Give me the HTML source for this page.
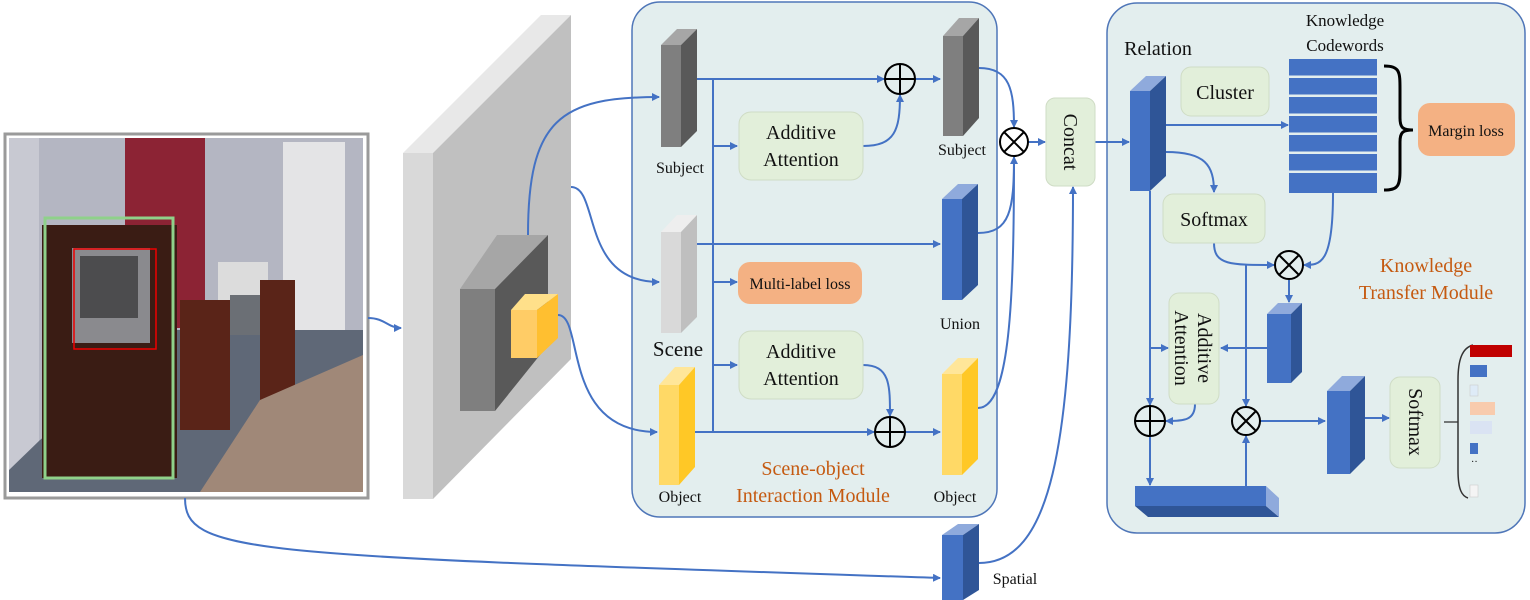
<!DOCTYPE html>
<html><head><meta charset="utf-8"><style>
body{margin:0;background:#fff}
svg{display:block}
text{font-family:"Liberation Serif",serif;fill:#111}
</style></head><body>
<svg width="1530" height="600" viewBox="0 0 1530 600" xmlns="http://www.w3.org/2000/svg">
<defs>
<marker id="a" markerWidth="8" markerHeight="8" refX="7" refY="4" orient="auto" markerUnits="userSpaceOnUse"><path d="M0,0 L8,4 L0,8 Z" fill="#4472C4"/></marker>
</defs>
<!-- photo -->
<rect x="5" y="134" width="363" height="364" fill="#fff" stroke="#9a9a9a" stroke-width="3"/>
<rect x="9" y="138" width="354" height="354" fill="#b4b6c2"/>
<rect x="9" y="138" width="30" height="354" fill="#c8c9d2"/>
<rect x="125" y="138" width="80" height="190" fill="#8c2334"/>
<rect x="283" y="142" width="62" height="235" fill="#e4e4e6"/>
<rect x="218" y="262" width="50" height="80" fill="#dcdcdc"/>
<polygon points="9,492 9,470 40,440 177,330 363,330 363,492" fill="#5f6877"/>
<rect x="42" y="225" width="135" height="253" fill="#3a1c14"/>
<rect x="72" y="248" width="78" height="95" fill="#8a8a8e"/>
<rect x="80" y="256" width="58" height="62" fill="#4c4c4e"/>
<rect x="180" y="300" width="50" height="130" fill="#5a2418"/>
<rect x="230" y="295" width="60" height="40" fill="#6b6f75"/>
<rect x="260" y="280" width="35" height="130" fill="#5a2418"/>
<polygon points="200,492 260,400 363,355 363,492" fill="#a08878"/>
<rect x="45" y="218" width="128" height="260" fill="none" stroke="#8fd18a" stroke-width="3"/>
<rect x="74" y="249" width="82" height="100" fill="none" stroke="#e00" stroke-width="1.5"/>
<!-- slab -->
<polygon points="403,153 433,153 433,499 403,499" fill="#d9d9d9"/>
<polygon points="403,153 541,15 571,15 433,153" fill="#e8e8e8"/>
<polygon points="433,153 571,15 571,359 433,499" fill="#c0c0c0"/>
<polygon points="460,289 497,235 548,235 495,289" fill="#a6a6a6"/>
<rect x="460" y="289" width="35" height="122" fill="#7f7f7f"/>
<polygon points="495,289 548,235 548,345 495,411" fill="#595959"/>
<polygon points="511,310 525,294 558,294 537,310" fill="#ffe08a"/>
<rect x="511" y="310" width="26" height="48" fill="#ffcc66"/>
<polygon points="537,310 558,294 558,338 537,358" fill="#ffbf30"/>
<!-- module 1 -->
<rect x="632" y="2" width="365" height="515" rx="28" fill="#e3eeee" stroke="#4f76b8" stroke-width="1.5"/>
<!-- module 2 -->
<rect x="1107" y="3" width="418" height="530" rx="30" fill="#e3eeee" stroke="#4f76b8" stroke-width="1.5"/>
<g stroke="#4472C4" stroke-width="2" fill="none">
<path d="M368,318 C385,318 388,328 401,328" marker-end="url(#a)"/>
<path d="M185,498 C185,555 250,555 940,578" marker-end="url(#a)"/>
<path d="M528,235 C528,120 560,97 659,97" marker-end="url(#a)"/>
<path d="M571,187 C600,187 580,282 659,282" marker-end="url(#a)"/>
<path d="M558,315 C585,315 560,432 657,432" marker-end="url(#a)"/>
<path d="M697,79 H884" marker-end="url(#a)"/>
<path d="M713,79 V432"/>
<path d="M713,146 H737" marker-end="url(#a)"/>
<path d="M713,282 H737" marker-end="url(#a)"/>
<path d="M713,365 H737" marker-end="url(#a)"/>
<path d="M697,244 H940" marker-end="url(#a)"/>
<path d="M679,432 H874" marker-end="url(#a)"/>
<path d="M905,432 H940" marker-end="url(#a)"/>
<path d="M915,79 H940" marker-end="url(#a)"/>
<path d="M863,146 C895,146 900,130 900,95" marker-end="url(#a)"/>
<path d="M863,365 C890,365 890,385 890,416" marker-end="url(#a)"/>
<path d="M979,68 C1010,68 1014,90 1014,127" marker-end="url(#a)"/>
<path d="M978,233 C1010,233 1014,210 1014,157" marker-end="url(#a)"/>
<path d="M978,408 C1010,408 1014,300 1014,157"/>
<path d="M1028,142 H1045" marker-end="url(#a)"/>
<path d="M979,563 C1050,563 1073,450 1073,187" marker-end="url(#a)"/>
<path d="M1095,142 H1129" marker-end="url(#a)"/>
<path d="M1166,125 H1288" marker-end="url(#a)"/>
<path d="M1166,152 C1205,152 1214,165 1214,192" marker-end="url(#a)"/>
<path d="M1214,243 C1214,265 1230,265 1274,265" marker-end="url(#a)"/>
<path d="M1333,193 C1333,265 1320,265 1304,265" marker-end="url(#a)"/>
<path d="M1246,265 V406" marker-end="url(#a)"/>
<path d="M1289,280 V302" marker-end="url(#a)"/>
<path d="M1267,348 H1221" marker-end="url(#a)"/>
<path d="M1150,191 V405" marker-end="url(#a)"/>
<path d="M1150,348 H1168" marker-end="url(#a)"/>
<path d="M1195,404 C1195,420 1185,421 1166,421" marker-end="url(#a)"/>
<path d="M1150,436 V485" marker-end="url(#a)"/>
<path d="M1246,486 V436" marker-end="url(#a)"/>
<path d="M1260,421 H1325" marker-end="url(#a)"/>
<path d="M1365,418 H1389" marker-end="url(#a)"/>
</g>
<!-- blocks -->
<g>
<polygon points="661,45 677,29 697,29 681,45" fill="#a6a6a6"/><rect x="661" y="45" width="20" height="102" fill="#7f7f7f"/><polygon points="681,45 697,29 697,131 681,147" fill="#595959"/>
<polygon points="661,232 677,215 697,215 681,232" fill="#eeeeee"/><rect x="661" y="232" width="20" height="101" fill="#d9d9d9"/><polygon points="681,232 697,215 697,317 681,333" fill="#bfbfbf"/>
<polygon points="659,385 675,367 695,367 679,385" fill="#ffe699"/><rect x="659" y="385" width="20" height="100" fill="#ffd966"/><polygon points="679,385 695,367 695,467 679,485" fill="#ffc826"/>
<polygon points="943,36 959,18 979,18 963,36" fill="#a6a6a6"/><rect x="943" y="36" width="20" height="100" fill="#7f7f7f"/><polygon points="963,36 979,18 979,118 963,136" fill="#595959"/>
<polygon points="942,199 958,184 978,184 962,199" fill="#8faadc"/><rect x="942" y="199" width="20" height="101" fill="#4472c4"/><polygon points="962,199 978,184 978,285 962,300" fill="#2f5597"/>
<polygon points="942,374 958,358 978,358 962,374" fill="#ffe699"/><rect x="942" y="374" width="20" height="101" fill="#ffd966"/><polygon points="962,374 978,358 978,459 962,475" fill="#ffc826"/>
<polygon points="942,535 958,524 979,524 963,535" fill="#8faadc"/><rect x="942" y="535" width="21" height="65" fill="#4472c4"/><polygon points="963,535 979,524 979,590 963,600" fill="#2f5597"/>
<polygon points="1130,91 1146,76 1166,76 1150,91" fill="#8faadc"/><rect x="1130" y="91" width="20" height="100" fill="#4472c4"/><polygon points="1150,91 1166,76 1166,176 1150,191" fill="#2f5597"/>
<polygon points="1267,314 1278,303 1302,303 1291,314" fill="#8faadc"/><rect x="1267" y="314" width="24" height="69" fill="#4472c4"/><polygon points="1291,314 1302,303 1302,372 1291,383" fill="#2f5597"/>
<polygon points="1327,391 1342,376 1365,376 1350,391" fill="#8faadc"/><rect x="1327" y="391" width="23" height="83" fill="#4472c4"/><polygon points="1350,391 1365,376 1365,459 1350,474" fill="#2f5597"/>
<rect x="1135" y="486" width="131" height="20" fill="#4472c4"/><polygon points="1135,506 1266,506 1279,517 1148,517" fill="#2f5597"/><polygon points="1266,486 1279,498 1279,517 1266,506" fill="#8faadc"/>
</g>
<!-- codewords -->
<g fill="#4472c4">
<rect x="1289" y="59" width="88" height="16.5"/><rect x="1289" y="78" width="88" height="16.5"/><rect x="1289" y="97" width="88" height="16.5"/><rect x="1289" y="116" width="88" height="16.5"/><rect x="1289" y="135" width="88" height="16.5"/><rect x="1289" y="154" width="88" height="16.5"/><rect x="1289" y="173" width="88" height="20"/>
</g>
<path d="M1384,66 C1400,66 1400,72 1400,90 V118 C1400,128 1403,130 1413,130 C1403,130 1400,132 1400,142 V170 C1400,186 1398,190 1384,190" fill="none" stroke="#000" stroke-width="3"/>
<!-- boxes -->
<g stroke="#cfdcc5" stroke-width="1" fill="#e2efda">
<rect x="739" y="112" width="124" height="68" rx="12"/>
<rect x="739" y="331" width="124" height="68" rx="12"/>
<rect x="1046" y="98" width="49" height="88" rx="9"/>
<rect x="1181" y="67" width="88" height="49" rx="10"/>
<rect x="1163" y="194" width="102" height="49" rx="10"/>
<rect x="1169" y="293" width="50" height="111" rx="10"/>
<rect x="1390" y="377" width="50" height="91" rx="10"/>
</g>
<rect x="738" y="262" width="124" height="42" rx="12" fill="#f4b183"/>
<rect x="1418" y="103" width="97" height="53" rx="12" fill="#f4b183"/>
<!-- circles -->
<g fill="none" stroke="#000" stroke-width="2">
<circle cx="900" cy="79" r="15"/><path d="M885,79 H915 M900,64 V94"/>
<circle cx="890" cy="432" r="15"/><path d="M875,432 H905 M890,417 V447"/>
<circle cx="1014" cy="142" r="14"/><path d="M1004,132 L1024,152 M1024,132 L1004,152"/>
<circle cx="1289" cy="265" r="14"/><path d="M1279,255 L1299,275 M1299,255 L1279,275"/>
<circle cx="1246" cy="421" r="14"/><path d="M1236,411 L1256,431 M1256,411 L1236,431"/>
<circle cx="1150" cy="421" r="15"/><path d="M1135,421 H1165 M1150,406 V436"/>
</g>
<!-- output bars -->
<path d="M1444,422 H1458" stroke="#000" stroke-width="1"/>
<path d="M1473,345 C1462,348 1458,360 1458,380 V470 C1458,490 1462,496 1468,498" fill="none" stroke="#333" stroke-width="1.5"/>
<rect x="1470" y="345" width="42" height="12" fill="#c00000"/>
<rect x="1470" y="365" width="17" height="12" fill="#4472c4"/>
<rect x="1470" y="385" width="8" height="11" fill="#deebf7" stroke="#ccc" stroke-width="0.6"/>
<rect x="1470" y="402" width="25" height="13" fill="#f8cbad"/>
<rect x="1470" y="421" width="22" height="13" fill="#dae3f3"/>
<rect x="1470" y="443" width="8" height="11" fill="#4472c4"/>
<text x="1471" y="465" font-size="10" fill="#4472c4">··</text>
<rect x="1470" y="485" width="8" height="12" fill="#f4f4f4" stroke="#ccc" stroke-width="0.6"/>
<!-- text -->
<g font-size="16" text-anchor="middle">
<text x="680" y="173">Subject</text>
<text x="962" y="155">Subject</text>
<text x="960" y="329">Union</text>
<text x="680" y="502">Object</text>
<text x="955" y="502">Object</text>
<text x="1015" y="584">Spatial</text>
</g>
<text x="678" y="356" font-size="21" text-anchor="middle">Scene</text>
<g font-size="20" text-anchor="middle">
<text x="801" y="139">Additive</text><text x="801" y="166">Attention</text>
<text x="801" y="358">Additive</text><text x="801" y="385">Attention</text>
<text x="1225" y="99">Cluster</text>
<text x="1214" y="226">Softmax</text>
<text x="1158" y="55">Relation</text>
</g>
<text x="800" y="289" font-size="16" text-anchor="middle">Multi-label loss</text>
<text x="1466" y="136" font-size="16" text-anchor="middle">Margin loss</text>
<g font-size="17" text-anchor="middle"><text x="1345" y="26">Knowledge</text><text x="1345" y="51">Codewords</text></g>
<g font-size="20" text-anchor="middle" style="fill:#c55a11">
<text x="813" y="475" style="fill:#c55a11">Scene-object</text><text x="813" y="502" style="fill:#c55a11">Interaction Module</text>
<text x="1426" y="272" style="fill:#c55a11">Knowledge</text><text x="1426" y="299" style="fill:#c55a11">Transfer Module</text>
</g>
<text transform="translate(1064,142) rotate(90)" font-size="20" text-anchor="middle">Concat</text>
<text transform="translate(1198,348) rotate(90)" font-size="20" text-anchor="middle">Additive</text>
<text transform="translate(1175,348) rotate(90)" font-size="20" text-anchor="middle">Attention</text>
<text transform="translate(1409,422) rotate(90)" font-size="20" text-anchor="middle">Softmax</text>
</svg>
</body></html>
